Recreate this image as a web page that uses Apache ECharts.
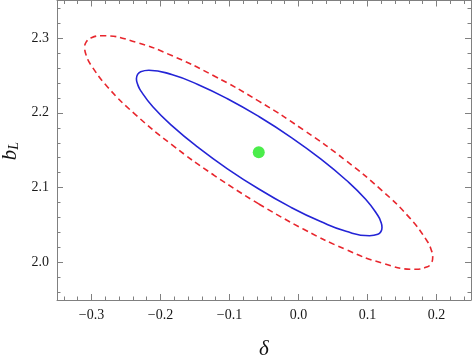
<!DOCTYPE html>
<html><head><meta charset="utf-8">
<script src="https://cdn.jsdelivr.net/npm/echarts@6/dist/echarts.min.js"></script>
<style>html,body{margin:0;padding:0;background:#fff}#c{width:474px;height:362px}</style>
</head><body><div id="c"></div>
<script>
// Axis ranges (delta on x, b_L on y)
const xRange = [-0.35, 0.25];
const yRange = [1.95, 2.35];
// Outer contour (red dashed), points [delta, b_L]
const outerContour = [
  [-0.0576, 2.0783], [-0.1229, 2.1169], [-0.1837, 2.1575], [-0.2359, 2.1973], [-0.2761, 2.2339],
  [-0.3012, 2.2644], [-0.3076, 2.2768], [-0.3098, 2.2869], [-0.3076, 2.2947], [-0.3012, 2.2999],
  [-0.2843, 2.3029], [-0.2359, 2.2944], [-0.1837, 2.2764], [-0.1229, 2.2495], [-0.0576, 2.2156],
  [0.0076, 2.1769], [0.0684, 2.1364], [0.1206, 2.0965], [0.1608, 2.0600], [0.1859, 2.0295],
  [0.1923, 2.0171], [0.1945, 2.0069], [0.1923, 1.9992], [0.1859, 1.9940], [0.1690, 1.9910],
  [0.1206, 1.9995], [0.0684, 2.0175], [0.0076, 2.0444], [-0.0576, 2.0783]
];
// Inner contour (blue solid)
const innerContour = [
  [-0.0569, 2.0979], [-0.1030, 2.1252], [-0.1459, 2.1541], [-0.1827, 2.1823], [-0.2111, 2.2081],
  [-0.2288, 2.2297], [-0.2333, 2.2385], [-0.2349, 2.2456], [-0.2333, 2.2511], [-0.2288, 2.2548],
  [-0.2169, 2.2568], [-0.1827, 2.2508], [-0.1459, 2.2378], [-0.1030, 2.2188], [-0.0569, 2.1947],
  [-0.0108, 2.1673], [0.0321, 2.1385], [0.0689, 2.1103], [0.0973, 2.0845], [0.1150, 2.0628],
  [0.1195, 2.0540], [0.1210, 2.0469], [0.1195, 2.0415], [0.1150, 2.0377], [0.1030, 2.0358],
  [0.0689, 2.0417], [0.0321, 2.0547], [-0.0108, 2.0737], [-0.0569, 2.0979]
];
// Best-fit point
const bestFit = [[-0.0576, 2.1473]];

const frameColor = '#808080';
const labelStyle = {color: '#1a1a1a', fontFamily: 'Liberation Serif', fontSize: 14};
const fmt = v => {
  const r = Math.round(v * 10) / 10;
  if (Math.abs(v - r) > 1e-6) return '';
  return r.toFixed(1).replace('-', '\u2212');
};
function axisBase(show) {
  return {
    axisLine: {show: true, onZero: false, lineStyle: {color: frameColor, width: 1}},
    axisTick: {show: true, inside: true, length: 6, lineStyle: {color: frameColor}},
    minorTick: {show: true, splitNumber: 5, length: 3.5, lineStyle: {color: frameColor}},
    splitLine: {show: false},
    axisLabel: show ? Object.assign({formatter: fmt, margin: 8}, labelStyle) : {show: false}
  };
}
const chart = echarts.init(document.getElementById('c'));
chart.setOption({
  animation: false,
  backgroundColor: '#fff',
  grid: {left: 57, right: 1, top: 0.5, bottom: 62, containLabel: false},
  xAxis: [
    Object.assign({type: 'value', position: 'bottom', min: xRange[0], max: xRange[1], splitNumber: 6}, axisBase(true)),
    Object.assign({type: 'value', position: 'top', min: xRange[0], max: xRange[1], splitNumber: 6}, axisBase(false))
  ],
  yAxis: [
    Object.assign({type: 'value', position: 'left', min: yRange[0], max: yRange[1], splitNumber: 4}, axisBase(true)),
    Object.assign({type: 'value', position: 'right', min: yRange[0], max: yRange[1], splitNumber: 4}, axisBase(false))
  ],
  graphic: [
    {type: 'text', x: 264, y: 349, style: {text: 'δ', font: 'italic 21px "Liberation Serif"', fill: '#111', align: 'center', verticalAlign: 'middle'}},
    {type: 'text', x: 10, y: 151, rotation: Math.PI / 2,
     style: {text: '{b|b}{s|L}', align: 'center', verticalAlign: 'middle',
       rich: {b: {font: 'italic 21px "Liberation Serif"', fill: '#111'},
              s: {font: 'italic 14px "Liberation Serif"', fill: '#111', padding: [9, 0, 0, 0]}}}}
  ],
  series: [
    {type: 'line', data: outerContour, smooth: 0.5, symbol: 'none', clip: true,
     lineStyle: {color: '#e8262d', width: 1.6, type: [6, 4]}},
    {type: 'line', data: innerContour, smooth: 0.5, symbol: 'none', clip: true,
     lineStyle: {color: '#2424d6', width: 1.6}},
    {type: 'scatter', data: bestFit, symbol: 'circle', symbolSize: 12,
     itemStyle: {color: '#1ee81e'}}
  ]
});
</script></body></html>
